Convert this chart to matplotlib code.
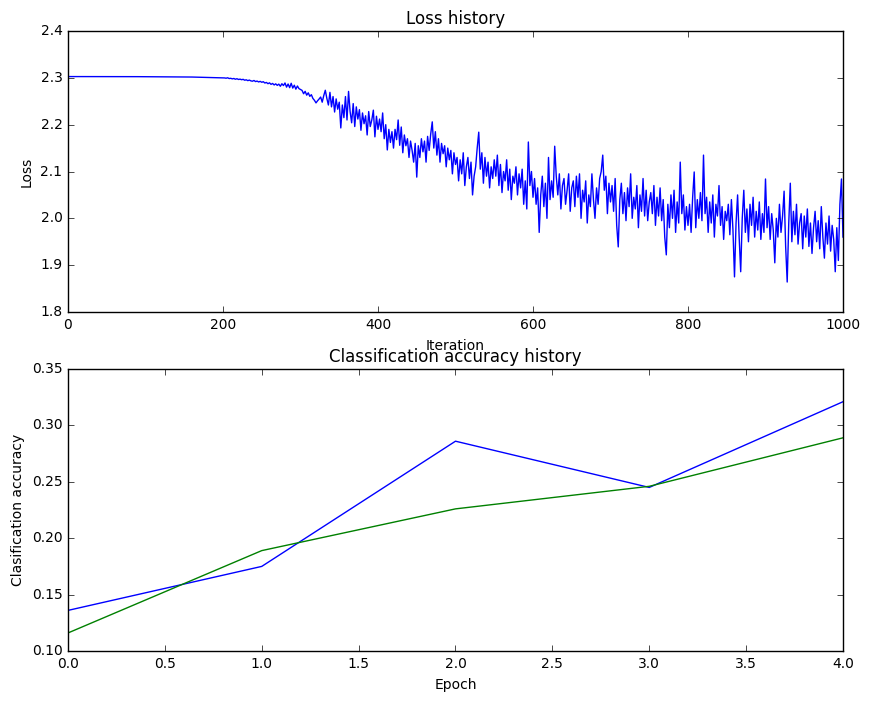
import numpy as np
import matplotlib
matplotlib.use("Agg")
import matplotlib.pyplot as plt

plt.style.use("classic")

# ---- Loss history data ----
loss_iters_flat = [0, 10, 20, 30, 40, 50, 60, 70, 80, 90, 100, 110, 120, 130, 140, 150, 160, 170, 180, 190, 200]
loss_flat = [2.3027, 2.3027, 2.3026, 2.3026, 2.3026, 2.3026, 2.3026, 2.3025, 2.3025, 2.3025, 2.3024,
             2.3024, 2.3023, 2.3022, 2.3021, 2.3020, 2.3017, 2.3013, 2.3008, 2.3004, 2.3000]

loss_iters_noisy = list(range(202, 1001, 2))
loss_noisy = [
    # 202-250
    2.2998, 2.2992, 2.3001, 2.2985, 2.2990, 2.2978, 2.2986, 2.2970, 2.2981, 2.2965, 2.2972, 2.2960, 2.2968,
    2.2949, 2.2958, 2.2940, 2.2952, 2.2935, 2.2928, 2.2944, 2.2920, 2.2931, 2.2912, 2.2925, 2.2905,
    # 252-300
    2.2918, 2.2889, 2.2902, 2.2875, 2.2893, 2.2861, 2.2880, 2.2848, 2.2872, 2.2839, 2.2866, 2.2820, 2.2874,
    2.2835, 2.2890, 2.2802, 2.2868, 2.2790, 2.2884, 2.2781, 2.2842, 2.2758, 2.2826, 2.2770, 2.2750,
    # 302-350
    2.2732, 2.2660, 2.2712, 2.2630, 2.2680, 2.2605, 2.2640, 2.2560, 2.2520, 2.2465, 2.2510, 2.2548, 2.2590,
    2.2480, 2.2620, 2.2735, 2.2560, 2.2420, 2.2690, 2.2380, 2.2600, 2.2270, 2.2550, 2.2330, 2.2480,
    # 352-400
    2.1930, 2.2420, 2.2150, 2.2600, 2.2100, 2.2710, 2.2280, 2.2040, 2.2450, 2.1960, 2.2380, 2.2120, 2.2320,
    2.1880, 2.2250, 2.2020, 2.2190, 2.1780, 2.2280, 2.1960, 2.2100, 2.2310, 2.1740, 2.2180, 2.1900,
    # 402-450
    2.2120, 2.1850, 2.2250, 2.1700, 2.2000, 2.1460, 2.1900, 2.1620, 2.1850, 2.1500, 2.1900, 2.1680, 2.2100,
    2.1560, 2.1950, 2.1400, 2.1780, 2.1550, 2.1700, 2.1300, 2.1650, 2.1450, 2.1200, 2.1600, 2.0880,
    # 452-500
    2.1550, 2.1300, 2.1700, 2.1420, 2.1650, 2.1200, 2.1750, 2.1450, 2.1800, 2.2060, 2.1500, 2.1850, 2.1350,
    2.1700, 2.1200, 2.1600, 2.1380, 2.1550, 2.1100, 2.1500, 2.1250, 2.1450, 2.0950, 2.1400, 2.1150,
    # 502-550
    2.1300, 2.0800, 2.1250, 2.0950, 2.1400, 2.0700, 2.1100, 2.1300, 2.0850, 2.1200, 2.0500, 2.0900, 2.1100,
    2.1500, 2.1840, 2.1050, 2.1400, 2.0750, 2.1300, 2.0900, 2.1200, 2.0650, 2.1100, 2.0850, 2.1250,
    # 552-600
    2.0900, 2.1350, 2.0700, 2.1150, 2.0550, 2.1000, 2.0800, 2.1250, 2.0600, 2.1050, 2.0400, 2.0900, 2.0750,
    2.1100, 2.0500, 2.0950, 2.0650, 2.1050, 2.0300, 2.0800, 2.0200, 2.1630, 2.0700, 2.1000, 2.0450,
    # 602-650
    2.0850, 2.0300, 2.0650, 1.9700, 2.0500, 2.0900, 2.0250, 2.0750, 2.0000, 2.1300, 2.0400, 2.0800, 2.0450,
    2.1540, 2.0900, 2.0500, 2.0950, 2.0200, 2.0700, 2.0850, 2.0300, 2.0600, 2.0950, 2.0150, 2.0650,
    # 652-700
    2.0800, 2.0250, 2.0900, 2.0450, 2.0950, 2.0000, 2.0600, 2.0350, 2.0800, 1.9900, 2.0500, 2.0250, 2.0950,
    2.0400, 2.0000, 2.0650, 2.0300, 2.0850, 2.1000, 2.1350, 2.0600, 2.0900, 2.0100, 2.0750, 2.0350,
    # 702-750
    2.0700, 2.0150, 2.0850, 1.9850, 1.9390, 2.0400, 2.0750, 2.0100, 2.0550, 1.9950, 2.0650, 2.0250, 2.0950,
    2.0000, 2.0450, 2.0200, 2.0700, 1.9800, 2.0500, 2.0150, 2.0850, 2.0050, 2.0600, 1.9950, 2.0350,
    # 752-800
    2.0550, 2.0100, 2.0700, 1.9850, 2.0450, 2.0050, 2.0650, 1.9950, 2.0400, 1.9600, 1.9220, 2.0300, 1.9800,
    2.0500, 2.0000, 2.0600, 1.9700, 2.0350, 1.9900, 2.1200, 2.0100, 2.0500, 1.9750, 2.0250, 1.9850,
    # 802-850
    2.0300, 1.9700, 2.0450, 2.0990, 1.9800, 2.0400, 2.0000, 2.0550, 1.9950, 2.1350, 2.0100, 2.0450, 1.9700,
    2.0350, 1.9900, 2.0500, 1.9600, 2.0300, 2.0050, 2.0700, 1.9850, 2.0250, 1.9550, 2.0150, 1.9950,
    # 852-900
    2.0300, 1.9650, 2.0400, 1.9750, 1.8750, 1.9900, 2.0500, 1.9600, 1.8860, 2.0000, 2.0600, 1.9700, 2.0200,
    1.9500, 2.0300, 1.9850, 2.0450, 1.9600, 2.0150, 1.9750, 2.0350, 1.9550, 2.0100, 1.9700, 2.0840,
    # 902-950
    1.9800, 2.0250, 1.9550, 2.0100, 1.9750, 1.9050, 2.0000, 1.9600, 2.0300, 1.9700, 2.0050, 2.0580, 1.9400,
    1.8640, 1.9900, 2.0750, 1.9500, 2.0150, 1.9650, 2.0300, 1.9450, 1.9900, 2.0100, 1.9350, 2.0050,
    # 952-1000
    1.9600, 2.0200, 1.9400, 1.9900, 1.9250, 1.9800, 2.0150, 1.9500, 1.9950, 1.9350, 2.0250, 1.9600, 1.9150,
    1.9900, 1.9450, 2.0050, 1.9300, 1.9850, 1.9550, 1.8860, 1.9800, 1.9100, 2.0300, 2.0840, 1.9600,
]

loss_iters = loss_iters_flat + loss_iters_noisy
loss_values = loss_flat + loss_noisy

# ---- Accuracy history data ----
epochs = [0, 1, 2, 3, 4]
train_acc = [0.136, 0.175, 0.286, 0.245, 0.321]
val_acc = [0.116, 0.189, 0.226, 0.246, 0.289]

fig = plt.figure(figsize=(8.7, 7.01), dpi=100, facecolor="white")

ax1 = fig.add_axes([68 / 870, 1 - 312 / 701, 775 / 870, 281 / 701])
ax1.plot(loss_iters, loss_values, color="b", linewidth=1.0)
ax1.set_title("Loss history", fontsize=12)
ax1.set_xlabel("Iteration", fontsize=10)
ax1.set_ylabel("Loss", fontsize=10)
ax1.set_xlim(0, 1000)
ax1.set_ylim(1.8, 2.4)
ax1.tick_params(labelsize=10)

ax2 = fig.add_axes([68 / 870, 1 - 651 / 701, 775 / 870, 282 / 701])
ax2.plot(epochs, train_acc, color="b", linewidth=1.0)
ax2.plot(epochs, val_acc, color="g", linewidth=1.0)
ax2.set_title("Classification accuracy history", fontsize=12)
ax2.set_xlabel("Epoch", fontsize=10)
ax2.set_ylabel("Clasification accuracy", fontsize=10)
ax2.set_xlim(0, 4)
ax2.set_ylim(0.10, 0.35)
ax2.tick_params(labelsize=10)

fig.savefig("out.png", dpi=100, facecolor="white")
